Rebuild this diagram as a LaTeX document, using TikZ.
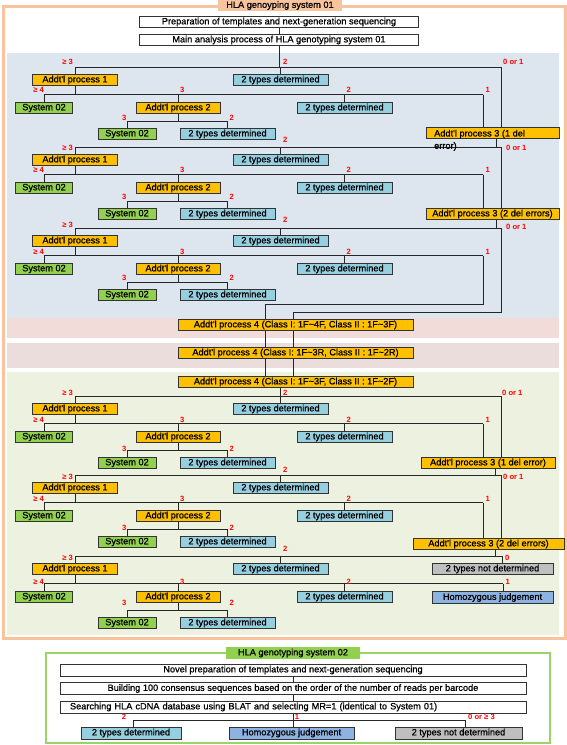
\documentclass[tikz,border=0pt]{standalone}
\usepackage{fontspec}
\setmainfont{Liberation Sans}
\newfontfamily\heavy{Liberation Sans}[FakeBold=0.8]
\usetikzlibrary{calc}
\definecolor{cOrange}{HTML}{FFC000}
\definecolor{cTypes}{HTML}{96CFE0}
\definecolor{cGreen}{HTML}{92D050}
\definecolor{cGray}{HTML}{BFBFBF}
\definecolor{cHomo}{HTML}{8DB3E2}
\definecolor{cBlue}{HTML}{DDE5EF}
\definecolor{cPink}{HTML}{F2DCDA}
\definecolor{cBandB}{HTML}{EADDDB}
\definecolor{cGreenBg}{HTML}{EDF1DF}
\definecolor{cBorder}{HTML}{F9C39D}
\definecolor{cGreenLine}{HTML}{9BD466}
\tikzset{
 box/.style={draw=black!80, line width=0.7pt, minimum height=11.5pt, inner sep=0pt, font=\heavy\fontsize{9.2}{10}\selectfont},
 org/.style={box, fill=cOrange},
 typ/.style={box, fill=cTypes},
 sys/.style={box, fill=cGreen},
 gry/.style={box, fill=cGray},
 hom/.style={box, fill=cHomo},
 wht/.style={box, fill=white},
 lab/.style={text=red, font=\fontsize{7.6}{8}\bfseries\selectfont, inner sep=0pt},
 ln/.style={draw=black!85, line width=0.7pt},
}
% #1 id, #2 h1, #3 dA, #4 d2, #5 dB, #6 dC, #7 right end h1, #8 right end h2
\newcommand\stg[8]{%
 \node[org, minimum width=85pt] (#1a1) at (75,#2+13) {Addt'l process 1};
 \node[typ, minimum width=95pt] (#1t1) at (280.5,#2+13) {2 types determined};
 \node[sys, minimum width=57pt] (#1s2) at (44,#2+41) {System 02};
 \node[org, minimum width=84pt] (#1a2) at (178,#2+41) {Addt'l process 2};
 \node[typ, minimum width=95pt] (#1t2) at (344.5,#2+41) {2 types determined};
 \node[sys, minimum width=58pt] (#1s3) at (127,#2+67) {System 02};
 \node[typ, minimum width=95pt] (#1t3) at (227.5,#2+67) {2 types determined};
 \coordinate (#1h) at (280.5,#2);
 \coordinate (#1r) at (#7,#2);
 \coordinate (#1g) at (178,#2+27.5);
 \coordinate (#1q) at (#8,#2+27.5);
 \coordinate (#1k) at (178,#2+54.5);
 \draw[ln] (#1a1.north) -- (#1a1.north |- #1h) -- (#1r);
 \draw[ln] (#1h) -- (#1t1.north);
 \draw[ln] (#1a1.south) -- (#1a1.south |- #1g);
 \draw[ln] (#1s2.north) -- (#1s2.north |- #1g) -- (#1q);
 \draw[ln] (#1g) -- (#1a2.north);
 \draw[ln] (#1t2.north |- #1g) -- (#1t2.north);
 \draw[ln] (#1a2.south) -- (#1k);
 \draw[ln] (#1s3.north) -- (#1s3.north |- #1k) -- (#1t3.north |- #1k) -- (#1t3.north);
 \node[lab, anchor=east] (#1la) at (73,#2+#3) {≥ 3};
 \node[lab, anchor=west] (#1lb) at (283,#2+#4) {2};
 \node[lab, anchor=east] (#1lc) at (44,#2+27.5+#5) {≥ 4};
 \node[lab, anchor=west] (#1ld) at (180,#2+27.5+#5) {3};
 \node[lab, anchor=west] (#1le) at (346.5,#2+27.5+#5) {2};
 \node[lab, anchor=west] (#1lf) at (#8+2.5,#2+27.5+#5) {1};
 \node[lab, anchor=east] (#1lg) at (126.5,#2+54.5+#6) {3};
 \node[lab, anchor=west] (#1lh) at (229.5,#2+54.5+#6) {2};
}
\begin{document}
\begin{tikzpicture}[x=1pt,y=-1pt]
\useasboundingbox (0,0) rectangle (567,745);
% background bands
\fill[cBlue] (7,53) rectangle (559,318);
\fill[cPink] (7,318) rectangle (559,338);
\fill[cBandB] (7,343) rectangle (559,368);
\fill[cGreenBg] (7,372) rectangle (559,635);
\draw[cBorder, line width=3pt] (3,6) rectangle (565,638);
\node[box, draw=none, fill=cBorder, minimum width=124pt, minimum height=11pt] (title1) at (280,5.5) {HLA genoyping system 01};
% top boxes
\node[wht, minimum width=279pt] (prep) at (279,22) {Preparation of templates and next-generation sequencing};
\node[wht, minimum width=279pt, minimum height=11pt] (main) at (279,40) {Main analysis process of HLA genotyping system 01};
\draw[ln] (prep) -- (main);
% stages
\stg{S1}{67}{-5}{-5}{-5}{-4}{501}{483}
\stg{S2}{147}{1}{-7}{-5}{-5}{501}{483}
\stg{S3}{228}{-3}{-8}{-4}{-5}{501}{483}
\stg{S4}{396}{-3}{-3}{-4}{-2}{501}{483}
\stg{S5}{475}{2}{-5}{-4}{-2}{501}{483}
\stg{S6}{556}{2}{-7}{-2}{-8}{502.5}{503}
\draw[ln] (main.south) -- (main.south |- S1h);
% process 3 boxes
\node[org, minimum width=133pt] (p3a) at (492.5,133) {};
\node[anchor=north west, align=left, inner sep=0pt, font=\heavy\fontsize{9.2}{12.4}\selectfont] (p3atext) at (434,129.6) {Addt'l process 3 (1 del\\error)};
\node[org, minimum width=133pt] (p3b) at (492.5,214) {Addt'l process 3 (2 del errors)};
\node[org, minimum width=134pt] (p3c) at (488,463) {Addt'l process 3 (1 del error)};
\node[org, minimum width=151pt] (p3d) at (488.5,544) {Addt'l process 3 (2 del errors)};
% right connections
\draw[ln] (S1r) -- (S1r |- p3a.north);
\draw[ln] (S1q) -- (S1q |- p3a.north);
\draw[ln] ($(p3a.south)+(3.5,0)$) -- ++(0,8);
\draw[ln] (S2r) -- (S2r |- p3b.north);
\draw[ln] (S2q) -- (S2q |- p3b.north);
\draw[ln] ($(p3b.south)+(3.5,0)$) -- ++(0,8);
\node[lab, anchor=west] (S1ro) at (503,62) {0 or 1};
\node[lab, anchor=west] (S2ro) at (506,147.5) {0 or 1};
\node[lab, anchor=west] (S3ro) at (506,227) {0 or 1};
\node[lab, anchor=west] (S4ro) at (502,393) {0 or 1};
\node[lab, anchor=west] (S5ro) at (503,477) {0 or 1};
\node[lab, anchor=west] (S6ro) at (505,558) {0};
% process 4 boxes
\node[org, minimum width=235pt] (p4a) at (295.5,325) {Addt'l process 4 (Class I: 1F\textasciitilde 4F, Class II : 1F\textasciitilde 3F)};
\node[org, minimum width=235pt] (p4b) at (295.5,353) {Addt'l process 4 (Class I: 1F\textasciitilde 3R, Class II : 1F\textasciitilde 2R)};
\node[org, minimum width=235pt] (p4c) at (295.5,382) {Addt'l process 4 (Class I: 1F\textasciitilde 3F, Class II : 1F\textasciitilde 2F)};
\coordinate (j1) at (265,304);
\coordinate (j2) at (293,312);
\draw[ln] (S3q) |- (j1) -- (j1 |- p4a.north);
\draw[ln] (S3r) |- (j2) -- (j2 |- p4a.north);
\draw[ln] (j1 |- p4a.south) -- (j1 |- p4b.north);
\draw[ln] (j2 |- p4a.south) -- (j2 |- p4b.north);
\draw[ln] (j1 |- p4b.south) -- (j1 |- p4c.north);
\draw[ln] (j2 |- p4b.south) -- (j2 |- p4c.north);
\draw[ln] (p4c.south -| S4h) -- (S4h);
% stage 4/5 right
\draw[ln] (S4r) -- (S4r |- p3c.north);
\draw[ln] (S4q) -- (S4q |- p3c.north);
\draw[ln] ($(p3c.south)+(7,0)$) -- ++(0,6);
\draw[ln] (S5r) -- (S5r |- p3d.north);
\draw[ln] (S5q) -- (S5q |- p3d.north);
\draw[ln] ($(p3d.south)+(6.5,0)$) -- ++(0,6);
% stage 6 right
\node[gry, minimum width=121pt] (nd) at (492.5,569) {2 types not determined};
\node[hom, minimum width=121pt] (hz) at (492.5,597.5) {Homozygous judgement};
\draw[ln] (S6r) -- (S6r |- nd.north);
\draw[ln] (S6q) -- (S6q |- hz.north);
% system 02
\draw[cGreenLine, line width=2pt] (46,653) rectangle (550,743);
\node[box, draw=none, fill=cGreen, minimum width=134pt, minimum height=12pt] (title2) at (293,653) {HLA genotyping system 02};
\node[wht, minimum width=466pt, minimum height=12pt] (n1) at (293,670) {Novel preparation of templates and next-generation sequencing};
\node[wht, minimum width=466pt, minimum height=12pt] (n2) at (293,688.5) {Building 100 consensus sequences based on the order of the number of reads per barcode};
\node[wht, text width=446pt, inner xsep=10pt, align=left, minimum height=12pt] (n3) at (293,707) {Searching HLA cDNA database using BLAT and selecting MR=1 (identical to System 01)};
\draw[ln] (n1) -- (n2);
\draw[ln] (n2) -- (n3);
\node[typ, minimum width=100pt, minimum height=12pt] (b1) at (131,733) {2 types determined};
\node[hom, minimum width=125pt, minimum height=12pt] (b2) at (291.5,733) {Homozygous judgement};
\node[gry, minimum width=127pt, minimum height=12pt] (b3) at (458.5,733) {2 types not determined};
\coordinate (sh) at (293,720);
\coordinate (v1) at (133,720);
\coordinate (v3) at (465.5,720);
\draw[ln] (n3.south) -- (sh);
\draw[ln] (v1) -- (v3);
\draw[ln] (v1) -- (v1 |- b1.north);
\draw[ln] (sh) -- (sh |- b2.north);
\draw[ln] (v3) -- (v3 |- b3.north);
\node[lab] (m1) at (124,716.5) {2};
\node[lab] (m2) at (297,716.5) {1};
\node[lab, anchor=west] (m3) at (468,716.5) {0 or ≥ 3};
\end{tikzpicture}
\end{document}
